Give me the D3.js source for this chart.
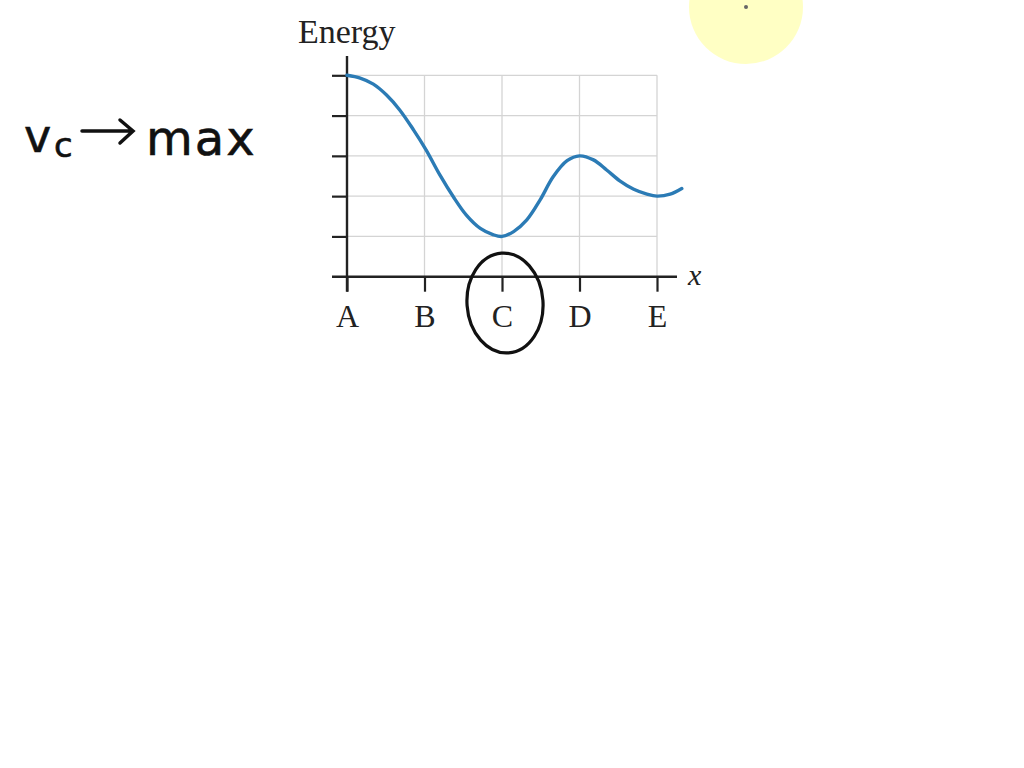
<!DOCTYPE html>
<html><head><meta charset="utf-8">
<script src="https://cdn.jsdelivr.net/npm/d3@7"></script>
<style>body{margin:0;background:#fff;}svg{display:block;}</style>
</head><body>
<svg id="c" width="1024" height="768"></svg>
<script>
const xLabels = ["A","B","C","D","E"];
const xTickValues = [0,1,2,3,4];
const yTickValues = [1,2,3,4,5];
const curveX = [0, 0.17, 0.34, 0.51, 0.68, 0.86, 1.02, 1.2, 1.37, 1.54, 1.72, 1.89, 2,
                2.15, 2.32, 2.49, 2.66, 2.84, 3, 3.18, 3.35, 3.52, 3.7, 3.87, 4, 4.17, 4.32];
const curveY = [5, 4.93, 4.78, 4.51, 4.14, 3.64, 3.15, 2.52, 1.99, 1.53, 1.2, 1.04, 1,
                1.12, 1.41, 1.9, 2.48, 2.88, 3, 2.9, 2.65, 2.38, 2.17, 2.05, 2, 2.05, 2.19];

const svg = d3.select("#c");
const x = d3.scaleLinear().domain([0,4]).range([347,657]);
const y = d3.scaleLinear().domain([0,5]).range([276.7,75.3]);

// highlight circle
svg.append("circle").attr("cx",746).attr("cy",7).attr("r",57).attr("fill","#ffffc4");
svg.append("circle").attr("cx",746).attr("cy",7).attr("r",2).attr("fill","#666");

// grid
const g = svg.append("g");
g.selectAll("line.h").data(yTickValues).join("line")
  .attr("x1",x(0)).attr("x2",x(4)).attr("y1",d=>y(d)).attr("y2",d=>y(d))
  .attr("stroke","#d4d4d4").attr("stroke-width",1.3);
g.selectAll("line.v").data(xTickValues.slice(1)).join("line")
  .attr("x1",d=>x(d)).attr("x2",d=>x(d)).attr("y1",y(5)).attr("y2",y(0))
  .attr("stroke","#d4d4d4").attr("stroke-width",1.3);

// axes
const xAxis = d3.axisBottom(x).tickValues(xTickValues).tickFormat(d=>xLabels[d]).tickSize(15).tickPadding(13);
const ax = svg.append("g").attr("transform",`translate(0,${y(0)})`).call(xAxis);
ax.select(".domain").remove();
ax.selectAll(".tick line").attr("stroke","#222").attr("stroke-width",2.2);
ax.selectAll(".tick text").attr("font-family","Liberation Serif").attr("font-size",32).attr("fill","#222");

const yAxis = d3.axisLeft(y).tickValues(yTickValues).tickFormat("").tickSize(15);
const ay = svg.append("g").attr("transform",`translate(${x(0)},0)`).call(yAxis);
ay.select(".domain").remove();
ay.selectAll(".tick line").attr("stroke","#222").attr("stroke-width",2.2);

svg.append("line").attr("x1",x(0)-15).attr("x2",x(4)+20).attr("y1",y(0)).attr("y2",y(0))
  .attr("stroke","#222").attr("stroke-width",2.4);
svg.append("line").attr("x1",x(0)).attr("x2",x(0)).attr("y1",56).attr("y2",y(0)+15)
  .attr("stroke","#222").attr("stroke-width",2.4);

svg.append("text").attr("x",298).attr("y",43).attr("font-family","Liberation Serif")
  .attr("font-size",34).attr("fill","#222").text("Energy");
svg.append("text").attr("x",688).attr("y",285).attr("font-family","Liberation Serif")
  .attr("font-style","italic").attr("font-size",30).attr("fill","#222").text("x");

// curve
const pts = curveX.map((v,i)=>[v,curveY[i]]);
svg.append("path").datum(pts)
  .attr("d", d3.line().x(d=>x(d[0])).y(d=>y(d[1])).curve(d3.curveCatmullRom.alpha(0.5)))
  .attr("fill","none").attr("stroke","#2b7bb5").attr("stroke-width",3.4).attr("stroke-linecap","round");

// hand annotations
svg.append("ellipse").attr("cx",505).attr("cy",303).attr("rx",38).attr("ry",50)
  .attr("fill","none").attr("stroke","#111").attr("stroke-width",3.2)
  .attr("transform","rotate(-4,505,303)");
const hand = svg.append("g").attr("fill","#111").attr("font-family","DejaVu Sans")
  .attr("stroke","#111").attr("stroke-width",0.6);
hand.append("text").attr("x",24).attr("y",152).attr("font-size",46).text("v");
hand.append("text").attr("x",54).attr("y",157).attr("font-size",34).text("c");
hand.append("text").attr("x",146).attr("y",155).attr("font-size",48).attr("letter-spacing",2).text("max");
svg.append("path").attr("d","M82,131 L132,131 M120,120 L133,131 L120,143")
  .attr("fill","none").attr("stroke","#111").attr("stroke-width",3.5).attr("stroke-linecap","round");
</script>
</body></html>
